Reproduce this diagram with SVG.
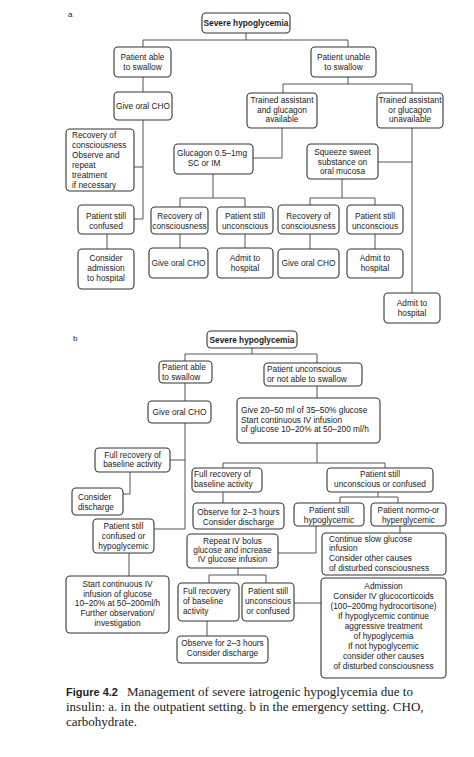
<svg xmlns="http://www.w3.org/2000/svg" width="474" height="757" viewBox="0 0 474 757">
<style>
.bx{fill:#fff;stroke:#333;stroke-width:1.1}
.t{font-family:"Liberation Sans",Arial,sans-serif;font-size:8.3px;fill:#1a1a1a;text-anchor:middle}
.l{text-anchor:start}
.bd{font-weight:bold}
.c{fill:none;stroke:#555;stroke-width:1}
.lab{font-family:"Liberation Sans",Arial,sans-serif;font-size:8px;fill:#222}
.cap{font-family:"Liberation Serif","Times New Roman",serif;font-size:13px;fill:#222}
</style>
<rect width="474" height="757" fill="#fff"/>
<text class="lab" x="68" y="17">a</text>
<text class="lab" x="73" y="341">b</text>

<g id="connectors">
<path class="c" d="M246,33V40M143,40H348M143,40V47M348,40V47M143,77V92M143,120V219M134,167H143M134,219H143M107,234V249M348,77V84M283,84H412M283,84V93M412,84V93M282,128V158H253M412,128V293M378,162H412M213,174V198M180,198H245M180,198V207M245,198V207M180,234V248M245,234V248M342,179V198M310,198H375M310,198V205M375,198V205M310,234V249M375,234V249"/>
<path class="c" d="M252,348V354M185,354H317M185,354V361M317,354V363M185,383V401M185,423V529M170,460H185M154,529H185M130,472V494H123M129,553V576M317,386V398M317,443V463M223,463H385M223,463V468M385,463V468M223,492V503M378,492V497M340,497H398M340,497V503M398,497V503M316,526V553H278M400,526V533M238,568V575M209,575H266M209,575V583M266,575V583M294,603H321M207,621V636"/>
</g>

<g id="a_severe"><rect class="bx" x="202" y="13" width="88" height="20" rx="4"/><text class="t bd" x="246" y="26">Severe hypoglycemia</text></g>
<g id="a_able"><rect class="bx" x="114" y="47" width="57" height="30" rx="4"/><text class="t" x="142.5" y="60">Patient able</text><text class="t" x="142.5" y="70">to swallow</text></g>
<g id="a_unable"><rect class="bx" x="311" y="47" width="65" height="30" rx="4"/><text class="t" x="343.5" y="60">Patient unable</text><text class="t" x="343.5" y="70">to swallow</text></g>
<g id="a_give1"><rect class="bx" x="114" y="92" width="58" height="28" rx="4"/><text class="t" x="143" y="109">Give oral CHO</text></g>
<g id="a_trained"><rect class="bx" x="247" y="93" width="70" height="35" rx="4"/><text class="t" x="282" y="103">Trained assistant</text><text class="t" x="282" y="112.5">and glucagon</text><text class="t" x="282" y="122">available</text></g>
<g id="a_unavail"><rect class="bx" x="377" y="93" width="66" height="35" rx="4"/><text class="t" x="410" y="103">Trained assistant</text><text class="t" x="410" y="112.5">or glucagon</text><text class="t" x="410" y="122">unavailable</text></g>
<g id="a_recov"><rect class="bx" x="66" y="129" width="68" height="62" rx="4"/><text class="t l" x="72" y="138">Recovery of</text><text class="t l" x="72" y="148">consciousness</text><text class="t l" x="72" y="158">Observe and</text><text class="t l" x="72" y="168">repeat</text><text class="t l" x="72" y="178">treatment</text><text class="t l" x="72" y="188">if necessary</text></g>
<g id="a_glucagon"><rect class="bx" x="174" y="144" width="79" height="30" rx="4"/><text class="t" x="212" y="156">Glucagon 0.5–1mg</text><text class="t" x="204" y="166">SC or IM</text></g>
<g id="a_squeeze"><rect class="bx" x="307" y="144" width="71" height="35" rx="4"/><text class="t" x="342.5" y="155">Squeeze sweet</text><text class="t" x="342.5" y="164.5">substance on</text><text class="t" x="342.5" y="174">oral mucosa</text></g>
<g id="a_confused"><rect class="bx" x="78" y="205" width="56" height="29" rx="4"/><text class="t" x="106" y="219">Patient still</text><text class="t" x="106" y="229">confused</text></g>
<g id="a_admission"><rect class="bx" x="78" y="249" width="56" height="40" rx="4"/><text class="t" x="106" y="261">Consider</text><text class="t" x="106" y="271">admission</text><text class="t" x="106" y="281">to hospital</text></g>
<g id="a_rec2"><rect class="bx" x="151" y="207" width="57" height="27" rx="4"/><text class="t" x="179.5" y="219">Recovery of</text><text class="t" x="179.5" y="229">consciousness</text></g>
<g id="a_unc2"><rect class="bx" x="217" y="207" width="56" height="27" rx="4"/><text class="t" x="245" y="219">Patient still</text><text class="t" x="245" y="229">unconscious</text></g>
<g id="a_give2"><rect class="bx" x="149" y="248" width="59" height="30" rx="4"/><text class="t" x="178.5" y="266">Give oral CHO</text></g>
<g id="a_admit2"><rect class="bx" x="217" y="248" width="56" height="30" rx="4"/><text class="t" x="245" y="261">Admit to</text><text class="t" x="245" y="271">hospital</text></g>
<g id="a_rec3"><rect class="bx" x="278" y="205" width="61" height="29" rx="4"/><text class="t" x="308.5" y="219">Recovery of</text><text class="t" x="308.5" y="229">consciousness</text></g>
<g id="a_unc3"><rect class="bx" x="347" y="205" width="56" height="29" rx="4"/><text class="t" x="375" y="219">Patient still</text><text class="t" x="375" y="229">unconscious</text></g>
<g id="a_give3"><rect class="bx" x="278" y="249" width="61" height="29" rx="4"/><text class="t" x="308.5" y="266">Give oral CHO</text></g>
<g id="a_admit3"><rect class="bx" x="347" y="249" width="56" height="29" rx="4"/><text class="t" x="375" y="261">Admit to</text><text class="t" x="375" y="271">hospital</text></g>
<g id="a_admit4"><rect class="bx" x="384" y="293" width="56" height="30" rx="4"/><text class="t" x="412" y="306">Admit to</text><text class="t" x="412" y="315.5">hospital</text></g>

<g id="b_severe"><rect class="bx" x="207" y="331" width="90" height="17" rx="4"/><text class="t bd" x="252" y="342.5">Severe hypoglycemia</text></g>
<g id="b_able"><rect class="bx" x="159" y="361" width="53" height="22" rx="4"/><text class="t l" x="162" y="370">Patient able</text><text class="t l" x="162" y="380">to swallow</text></g>
<g id="b_unc"><rect class="bx" x="264" y="363" width="98" height="23" rx="4"/><text class="t l" x="267" y="372">Patient unconscious</text><text class="t l" x="267" y="382">or not able to swallow</text></g>
<g id="b_give"><rect class="bx" x="148" y="401" width="63" height="22" rx="4"/><text class="t" x="179.5" y="415">Give oral CHO</text></g>
<g id="b_give20"><rect class="bx" x="237" y="398" width="143" height="45" rx="4"/><text class="t l" x="241" y="413">Give 20–50 ml of 35–50% glucose</text><text class="t l" x="241" y="422.5">Start continuous IV infusion</text><text class="t l" x="241" y="432">of glucose 10–20% at 50–200 ml/h</text></g>
<g id="b_full1"><rect class="bx" x="95" y="448" width="75" height="24" rx="4"/><text class="t" x="132.5" y="458">Full recovery of</text><text class="t" x="132.5" y="467">baseline activity</text></g>
<g id="b_disch"><rect class="bx" x="72" y="488" width="51" height="27" rx="4"/><text class="t l" x="78" y="500">Consider</text><text class="t l" x="78" y="510">discharge</text></g>
<g id="b_conf"><rect class="bx" x="93" y="519" width="61" height="34" rx="4"/><text class="t" x="123.5" y="529">Patient still</text><text class="t" x="123.5" y="539">confused or</text><text class="t" x="123.5" y="549">hypoglycemic</text></g>
<g id="b_start"><rect class="bx" x="66" y="576" width="103" height="57" rx="4"/><text class="t" x="117.5" y="587">Start continuous IV</text><text class="t" x="117.5" y="596.5">infusion of glucose</text><text class="t" x="117.5" y="606">10–20% at 50–200ml/h</text><text class="t" x="117.5" y="616">Further observation/</text><text class="t" x="117.5" y="626">investigation</text></g>
<g id="b_full2"><rect class="bx" x="192" y="468" width="70" height="24" rx="4"/><text class="t l" x="194" y="477">Full recovery of</text><text class="t l" x="194" y="487">baseline activity</text></g>
<g id="b_obs1"><rect class="bx" x="193" y="503" width="91" height="26" rx="4"/><text class="t" x="238.5" y="515">Observe for 2–3 hours</text><text class="t" x="238.5" y="525">Consider discharge</text></g>
<g id="b_repeat"><rect class="bx" x="187" y="534" width="91" height="34" rx="4"/><text class="t" x="232.5" y="544">Repeat IV bolus</text><text class="t" x="232.5" y="553">glucose and increase</text><text class="t" x="232.5" y="562">IV glucose infusion</text></g>
<g id="b_unc2"><rect class="bx" x="327" y="468" width="106" height="24" rx="4"/><text class="t" x="380" y="477">Patient still</text><text class="t" x="380" y="487">unconscious or confused</text></g>
<g id="b_hypo"><rect class="bx" x="294" y="503" width="70" height="23" rx="4"/><text class="t" x="329" y="513">Patient still</text><text class="t" x="329" y="523">hypoglycemic</text></g>
<g id="b_normo"><rect class="bx" x="371" y="503" width="75" height="23" rx="4"/><text class="t" x="408.5" y="513">Patient normo-or</text><text class="t" x="408.5" y="523">hyperglycemic</text></g>
<g id="b_cont"><rect class="bx" x="322" y="533" width="124" height="42" rx="4"/><text class="t l" x="329" y="542">Continue slow glucose</text><text class="t l" x="329" y="551">infusion</text><text class="t l" x="329" y="561">Consider other causes</text><text class="t l" x="329" y="571">of disturbed consciousness</text></g>
<g id="b_full3"><rect class="bx" x="178" y="583" width="61" height="38" rx="4"/><text class="t l" x="183" y="594">Full recovery</text><text class="t l" x="183" y="604">of baseline</text><text class="t l" x="183" y="614">activity</text></g>
<g id="b_unc3"><rect class="bx" x="242" y="583" width="52" height="38" rx="4"/><text class="t" x="268" y="594">Patient still</text><text class="t" x="268" y="604">unconscious</text><text class="t" x="268" y="614">or confused</text></g>
<g id="b_admit"><rect class="bx" x="321" y="578" width="125" height="100" rx="4"/><text class="t" x="383.5" y="589">Admission</text><text class="t" x="383.5" y="599">Consider IV glucocorticoids</text><text class="t" x="383.5" y="609">(100–200mg hydrocortisone)</text><text class="t" x="383.5" y="619">If hypoglycemic continue</text><text class="t" x="383.5" y="629">aggressive treatment</text><text class="t" x="383.5" y="639">of hypoglycemia</text><text class="t" x="383.5" y="649">If not hypoglycemic</text><text class="t" x="383.5" y="659">consider other causes</text><text class="t" x="383.5" y="669">of disturbed consciousness</text></g>
<g id="b_obs2"><rect class="bx" x="177" y="636" width="91" height="27" rx="4"/><text class="t" x="222.5" y="646">Observe for 2–3 hours</text><text class="t" x="222.5" y="656">Consider discharge</text></g>

<g id="caption">
<text class="cap" x="66" y="696"><tspan font-family="'Liberation Sans',Arial,sans-serif" font-weight="bold" font-size="11">Figure 4.2</tspan><tspan x="127">Management of severe iatrogenic hypoglycemia due to</tspan></text>
<text class="cap" x="66" y="711">insulin: a. in the outpatient setting. b in the emergency setting. CHO,</text>
<text class="cap" x="66" y="726">carbohydrate.</text>
</g>
</svg>
